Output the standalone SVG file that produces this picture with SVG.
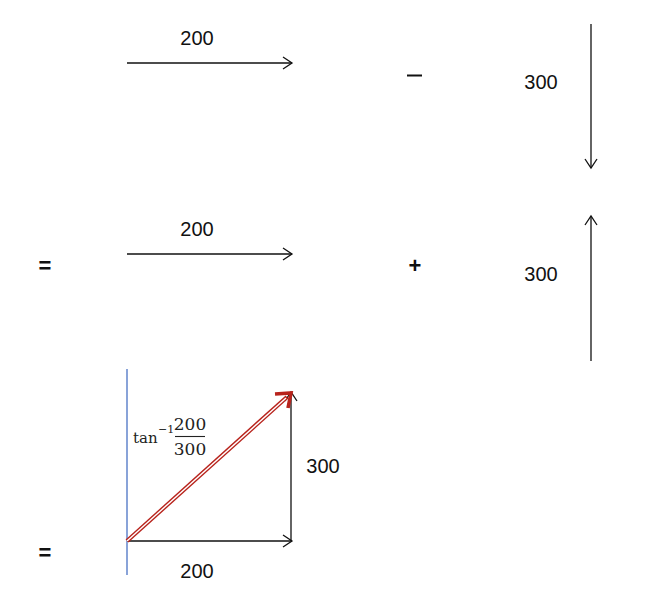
<svg xmlns="http://www.w3.org/2000/svg" width="655" height="600" viewBox="0 0 655 600">
<style>
.lbl{font-family:"Liberation Sans",Arial,sans-serif;font-size:20px;fill:#111;text-anchor:middle}
.op{font-family:"Liberation Sans",Arial,sans-serif;font-size:22px;font-weight:bold;fill:#111;text-anchor:middle}
.ar{stroke:#111;stroke-width:1.3;fill:none}
.math{font-family:"DejaVu Serif","Liberation Serif",serif;fill:#222}
</style>
<defs>
<marker id="ah" viewBox="-12 -7 14 14" markerWidth="14" markerHeight="14" refX="0" refY="0" orient="auto" markerUnits="userSpaceOnUse">
<path d="M-9,-6 L0,0 L-9,6" fill="none" stroke="#111" stroke-width="1.3"/>
</marker>
</defs>
<rect width="655" height="600" fill="#fff"/>
<g id="connectors">
<line id="a1" class="ar" x1="127" y1="63" x2="292" y2="63" marker-end="url(#ah)"/>
<line id="a2" class="ar" x1="591" y1="24" x2="591" y2="168" marker-end="url(#ah)"/>
<line id="a3" class="ar" x1="127" y1="254" x2="292" y2="254" marker-end="url(#ah)"/>
<line id="a4" class="ar" x1="591" y1="361" x2="591" y2="216" marker-end="url(#ah)"/>
<line id="axis" x1="127" y1="369" x2="127" y2="575" stroke="#4a72c4" stroke-width="1.3"/>
<line id="a5" class="ar" x1="127" y1="541" x2="292" y2="541" marker-end="url(#ah)"/>
<line id="a6" class="ar" x1="291" y1="541" x2="291" y2="392" marker-end="url(#ah)"/>
<g id="resultant">
<line x1="127" y1="541" x2="287" y2="397" stroke="#b8231c" stroke-width="4.2"/>
<line x1="127" y1="541" x2="286" y2="398" stroke="#fff" stroke-width="1.4"/>
<path d="M275,394 L291,393 L288,408" fill="none" stroke="#b8231c" stroke-width="3.6" stroke-linejoin="miter"/>
</g>
</g>
<g id="row1">
<text class="lbl" x="197" y="45">200</text>
<line id="minus" x1="407" y1="75.5" x2="422" y2="75.5" stroke="#111" stroke-width="2"/>
<text class="lbl" x="541" y="89">300</text>
</g>
<g id="row2">
<text class="op" x="45" y="273">=</text>
<text class="lbl" x="197" y="236">200</text>
<text class="op" x="415" y="273">+</text>
<text class="lbl" x="541" y="281">300</text>
</g>
<g id="row3">
<text class="op" x="45" y="560">=</text>
<text class="lbl" x="197" y="578">200</text>
<text class="lbl" x="323" y="473">300</text>
<g id="angle">
<text class="math" x="133" y="443" font-size="15">tan</text>
<text class="math" x="158" y="433" font-size="11">−1</text>
<text class="math" x="190" y="430" font-size="17" text-anchor="middle">200</text>
<line x1="175" y1="436.5" x2="205" y2="436.5" stroke="#222" stroke-width="1.1"/>
<text class="math" x="190" y="455" font-size="17" text-anchor="middle">300</text>
</g>
</g>
</svg>
